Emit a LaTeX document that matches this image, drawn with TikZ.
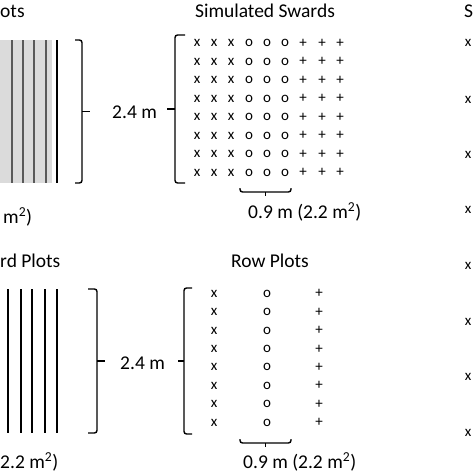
\documentclass[tikz,border=0pt]{standalone}
\usepackage{fontspec}
\setmainfont{Carlito}
\usepackage{tikz}

% bracket with a small tick: base x, spine x, tip x, top y, bottom y
\newcommand{\vbrack}[5]{%
  \draw[bracket] (#1,#4) -- (#2,#4) -- (#2,#5) -- (#1,#5);
  \draw[bracket] (#2,{(#4+#5)/2}) -- (#3,{(#4+#5)/2});}
% horizontal bracket: left x, right x, base y, spine y, tip y
\newcommand{\hbrack}[5]{%
  \draw[bracket] (#1,#3) -- (#1,#4) -- (#2,#4) -- (#2,#3);
  \draw[bracket] ({(#1+#2)/2},#4) -- ({(#1+#2)/2},#5);}

\begin{document}
\begin{tikzpicture}[x=1pt, y=-1pt, font=\fontsize{19.5}{22}\selectfont]
    \useasboundingbox (0,0) rectangle (474,474);
    \clip (0,0) rectangle (474,474);
      \tikzstyle{bracket} = [line width=1.4pt, rounded corners=2.5pt]
      \tikzstyle{lbl} = [inner sep=0pt, anchor=west]
      \tikzstyle{symb} = [inner sep=0pt, font=\fontsize{15}{16}\selectfont]
      \tikzstyle{strip} = [line width=1.8pt, color=black!65]

	% top left: drilled strips over a sown sward
	\fill[color=black!14] (0,40) rectangle (52,183);
	\foreach \x in {12,23,34,46}
	  \draw[strip] (\x,40) -- (\x,183);
	\draw[line width=1.8pt] (57,40) -- (57,183);
	\vbrack{75}{82}{90}{40}{183}
	\node (topleft) [lbl] at (0,11) {ots};
	\node (tlheight) [lbl] at (112,112) {2.4 m};
	\node (tlarea) [lbl] at (3,217) {m\textsuperscript{2})};

	% top middle: simulated swards
	\node (swards) at (265,11) {Simulated Swards};
	\vbrack{185}{175}{167}{35}{183}
	\node (swheight) [lbl] at (248,212) {0.9 m (2.2 m\textsuperscript{2})};
	\hbrack{240}{291}{188}{192}{196}
	\foreach \y [count=\i] in {43,61.5,80,98.5,117,135.5,154,172.5} {
	  \foreach \x [count=\j] in {197,214,231} \node (sx-\i-\j) [symb] at (\x,\y) {x};
	  \foreach \x [count=\j] in {249,267,285} \node (so-\i-\j) [symb] at (\x,\y) {o};
	  \foreach \x [count=\j] in {303,322,340} \node (sp-\i-\j) [symb] at (\x,\y) {+};
	}

	% top right
	\node (topright) [lbl] at (464,11) {S};
	\foreach \y [count=\i] in {43,100,155,210,266,322,377,433}
	  \node (rx-\i) [symb] at (468,\y) {x};

	% bottom left: sward plots
	\foreach \x in {8,21,32,45,57}
	  \draw[line width=1.8pt] (\x,289) -- (\x,433);
	\vbrack{88}{97}{105}{289}{433}
	\node (bottomleft) [lbl] at (0,261) {rd Plots};
	\node (blheight) [lbl] at (120,363) {2.4 m};
	\node (blarea) [lbl] at (0,462) {2.2 m\textsuperscript{2})};

	% bottom middle: row plots
	\node (rows) at (270,261) {Row Plots};
	\vbrack{192}{184}{178}{288}{434}
	\node (rowwidth) [lbl] at (243,462) {0.9 m (2.2 m\textsuperscript{2})};
	\hbrack{240}{291}{439}{443}{447}
	\foreach \y [count=\i] in {293.5,312,330.5,349,367,385.5,404,422.5} {
	  \node (bx-\i) [symb] at (214,\y) {x};
	  \node (bo-\i) [symb] at (267,\y) {o};
	  \node (bp-\i) [symb] at (319,\y) {+};
	}
    \end{tikzpicture}
\end{document}
